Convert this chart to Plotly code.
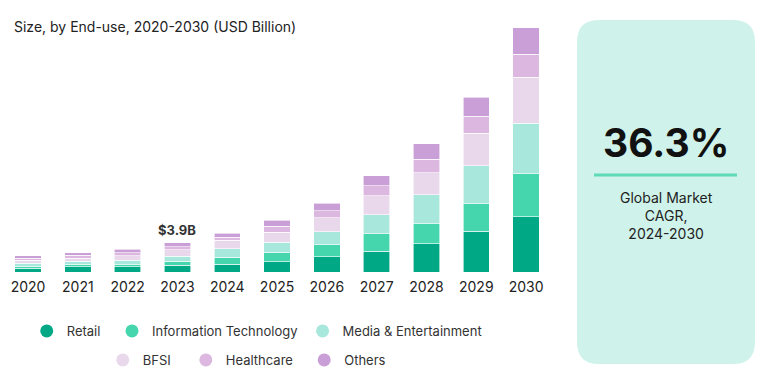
import plotly.graph_objects as go

years = ["2020", "2021", "2022", "2023", "2024", "2025", "2026", "2027", "2028", "2029", "2030"]
retail = [0.49, 0.67, 0.67, 0.93, 1.06, 1.37, 2.05, 2.76, 3.78, 5.42, 7.37]
info_tech = [0.27, 0.36, 0.31, 0.53, 0.93, 1.29, 1.60, 2.36, 2.66, 3.69, 5.72]
media = [0.40, 0.40, 0.57, 0.67, 1.10, 1.33, 1.73, 2.53, 3.86, 5.00, 6.73]
bfsi = [0.40, 0.40, 0.59, 0.80, 1.12, 1.33, 1.86, 2.53, 2.88, 4.35, 6.12]
healthcare = [0.27, 0.40, 0.44, 0.44, 0.44, 0.75, 0.93, 1.28, 1.86, 2.30, 3.06]
others = [0.31, 0.35, 0.44, 0.53, 0.53, 0.85, 0.97, 1.38, 2.05, 2.53, 3.51]

series_names = ["Retail", "Information Technology", "Media & Entertainment", "BFSI", "Healthcare", "Others"]
series_values = [retail, info_tech, media, bfsi, healthcare, others]
colors = ["#00A886", "#45D6AE", "#A8E7DB", "#E9D7EC", "#DCB8E1", "#CA9ED6"]

FONT = "Inter, Roboto, sans-serif"
PW, PH = 543.0, 252.0  # plot area size in px

fig = go.Figure()
for name, vals, col in zip(series_names, series_values, colors):
    fig.add_trace(go.Bar(
        x=years, y=vals, name=name, marker=dict(color=col, line=dict(color="white", width=0.6)),
        showlegend=False, hoverinfo="skip",
    ))

# legend entries (circle markers), each in its own positioned legend
legend_ids = ["legend", "legend2", "legend3", "legend4", "legend5", "legend6"]
for name, col, lid in zip(series_names, colors, legend_ids):
    fig.add_trace(go.Scatter(
        x=[None], y=[None], mode="markers", name=name,
        marker=dict(color=col, size=13, symbol="circle"),
        legend=lid, hoverinfo="skip",
    ))

legend_x = [0.0345, 0.1915, 0.5425, 0.1745, 0.3275, 0.5455]
legend_y = [-0.234, -0.234, -0.234, -0.349, -0.349, -0.349]
legend_layout = {}
for lid, lx, ly in zip(legend_ids, legend_x, legend_y):
    legend_layout[lid] = dict(orientation="h", x=lx, xanchor="left", y=ly, yanchor="middle",
                              font=dict(size=13, color="#333333"), bgcolor="rgba(0,0,0,0)")

# rounded panel on the right
x0, x1, y0, y1 = 1.0479, 1.3757, -0.365, 1.0
rx, ry = 22 / PW, 22 / PH
path = (f"M {x0+rx},{y1} L {x1-rx},{y1} Q {x1},{y1} {x1},{y1-ry} "
        f"L {x1},{y0+ry} Q {x1},{y0} {x1-rx},{y0} "
        f"L {x0+rx},{y0} Q {x0},{y0} {x0},{y0+ry} "
        f"L {x0},{y1-ry} Q {x0},{y1} {x0+rx},{y1} Z")
fig.add_shape(type="path", path=path, xref="paper", yref="paper",
              fillcolor="#CFF3EA", line=dict(width=0), layer="below")
fig.add_shape(type="line", xref="paper", yref="paper", x0=1.0792, x1=1.3425, y0=0.385, y1=0.385,
              line=dict(color="#5EDAB6", width=3))

fig.add_annotation(x=1.2118, y=0.512, xref="paper", yref="paper", xanchor="center", yanchor="middle",
                   text="<b>36.3%</b>",
                   showarrow=False, font=dict(family=FONT, size=39, color="#111111"))
fig.add_annotation(x=1.2118, y=0.226, xref="paper", yref="paper", xanchor="center", yanchor="middle",
                   text="Global Market<br>CAGR,<br>2024-2030",
                   showarrow=False, font=dict(family=FONT, size=14, color="#222222"))

fig.add_annotation(x=0.0074, y=0.976, xref="paper", yref="paper", xanchor="left", yanchor="middle",
                   text="Size, by End-use, 2020-2030 (USD Billion)", showarrow=False,
                   font=dict(family=FONT, size=14, color="#222222"))

label_year = "2023"
idx = years.index(label_year)
total_label = sum(v[idx] for v in series_values)
fig.add_annotation(x=idx, y=total_label, xref="x", yref="y", xanchor="center", yanchor="bottom",
                   yshift=3, text=f"<b>${total_label:.1f}B</b>", showarrow=False,
                   font=dict(family=FONT, size=13, color="#333333"))

fig.update_layout(
    width=760, height=381,
    margin=dict(l=0, r=217, t=12, b=117, autoexpand=False),
    paper_bgcolor="white", plot_bgcolor="white",
    barmode="stack", bargap=0.47,
    font=dict(family=FONT, color="#333333"),
    xaxis=dict(type="category", categoryorder="array", categoryarray=years,
               range=[-0.4016, 10.5], showline=False, showgrid=False, zeroline=False,
               ticks="", ticklabelstandoff=5, automargin=False,
               tickfont=dict(size=14, color="#222222"), fixedrange=True),
    yaxis=dict(visible=False, range=[0, 33.54], fixedrange=True, automargin=False),
    **legend_layout,
)

fig.write_html("out.html")
